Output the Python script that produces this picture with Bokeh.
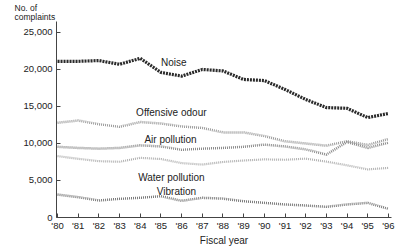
from bokeh.plotting import figure
from bokeh.models import Range1d, FixedTicker, NumeralTickFormatter, Label, Title
from bokeh.embed import file_html
from bokeh.resources import INLINE

years = [80, 81, 82, 83, 84, 85, 86, 87, 88, 89, 90, 91, 92, 93, 94, 95, 96]
year_labels = ["'80", "'81", "'82", "'83", "'84", "'85", "'86", "'87", "'88",
               "'89", "'90", "'91", "'92", "'93", "'94", "'95", "'96"]
noise = [21100, 21100, 21200, 20700, 21500, 19600, 19100, 20000, 19800, 18650,
         18500, 17300, 15950, 14850, 14750, 13500, 14050]
odour = [12800, 13100, 12600, 12250, 12900, 12700, 12300, 12100, 11500, 11500,
         11000, 10300, 10000, 9700, 10300, 9800, 10600]
air = [9550, 9400, 9300, 9400, 9750, 9600, 9150, 9300, 9400, 9550,
       9850, 9600, 9200, 8500, 10200, 9400, 10100]
water = [8290, 7930, 7610, 7530, 8060, 7900, 7350, 7150, 7500, 7700,
         7850, 7800, 7950, 7550, 7050, 6500, 6700]
vibration = [3100, 2750, 2300, 2520, 2660, 2880, 2250, 2660, 2550, 2200,
             1980, 1760, 1620, 1440, 1760, 1980, 1170]
y_ticks = [0, 5000, 10000, 15000, 20000, 25000]

FONT = "Liberation Sans"

p = figure(frame_width=335, frame_height=196, output_backend="svg",
           toolbar_location=None,
           x_range=Range1d(79.95, 96.15), y_range=Range1d(0, 26480),
           min_border_left=56, min_border_right=10, min_border_top=20,
           min_border_bottom=28)
p.outline_line_color = None
p.xgrid.visible = False
p.ygrid.visible = False
p.background_fill_color = "white"

p.line(years, odour, line_color="#9a9a9a", line_width=2.5, line_dash="1 1")
p.line(years, air, line_color="#8a8a8a", line_width=2.5, line_dash="1 1")
p.line(years, water, line_color="#b0b0b0", line_width=2.2, line_dash="1 1")
p.line(years, vibration, line_color="#7a7a7a", line_width=2.5, line_dash="1 1")
p.line(years, noise, line_color="#2a2a2a", line_width=3.2, line_dash="2 1")

for ax in (p.xaxis[0], p.yaxis[0]):
    ax.major_tick_in = 4
    ax.major_tick_out = 0
    ax.minor_tick_in = 0
    ax.minor_tick_out = 0
    ax.axis_line_color = "#444444"
    ax.major_tick_line_color = "#444444"
    ax.major_label_text_font = FONT
    ax.major_label_text_font_size = "9.5px"
    ax.major_label_text_color = "#222222"

p.xaxis.ticker = FixedTicker(ticks=years)
p.xaxis.major_label_overrides = {y: l for y, l in zip(years, year_labels)}
p.xaxis.major_label_standoff = 2
p.xaxis.axis_label = "Fiscal year"
p.xaxis.axis_label_text_font = FONT
p.xaxis.axis_label_text_font_size = "10px"
p.xaxis.axis_label_text_font_style = "normal"
p.xaxis.axis_label_standoff = 1
p.xaxis.axis_label_text_color = "#222222"

p.yaxis.ticker = FixedTicker(ticks=y_ticks)
p.yaxis.formatter = NumeralTickFormatter(format="0,0")
p.yaxis.major_label_standoff = 4

p.add_layout(Title(text="No. of\ncomplaints", align="left", offset=-42,
                   standoff=0, text_font=FONT, text_font_size="8.5px",
                   text_line_height=0.85,
                   text_font_style="normal", text_color="#222222"),
             "above")

def lab(x, y, t, size="10px", align="left", baseline="middle"):
    p.add_layout(Label(x=x, y=y, text=t, text_font=FONT, text_font_size=size,
                       text_color="#222222", text_align=align,
                       text_baseline=baseline))

lab(85.0, 21000, "Noise")
lab(83.8, 14150, "Offensive odour")
lab(84.2, 10600, "Air pollution")
lab(83.9, 5450, "Water pollution")
lab(84.8, 3550, "Vibration")

open("out.html", "w").write(file_html(p, INLINE))
